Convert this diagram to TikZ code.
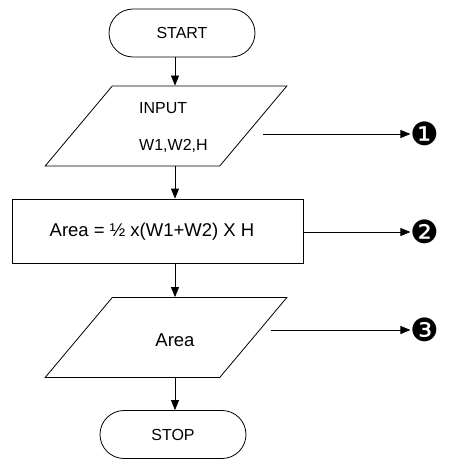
\documentclass[tikz,border=0pt]{standalone}
\usepackage{fontspec}
\setmainfont{Liberation Sans}
\newfontfamily\dingfont{DejaVu Sans}
\usetikzlibrary{shapes.geometric,arrows.meta}

\tikzset{
	terminal/.style = {draw, rounded corners=24pt, minimum width=146pt, minimum height=48pt, line width=0.8pt},
	io/.style = {draw, trapezium, trapezium left angle=58, trapezium right angle=122, trapezium stretches=true, minimum width=242pt, minimum height=80pt, line width=0.8pt},
	process/.style = {draw, rectangle, minimum width=291pt, minimum height=64pt, line width=0.8pt},
	txt/.style = {font=\fontsize{16}{19}\selectfont, inner sep=0pt},
	bigtxt/.style = {font=\fontsize{18.5}{22}\selectfont, inner sep=0pt},
	num/.style = {font=\dingfont\fontsize{32}{32}\selectfont, inner sep=0pt},
	arr/.style = {line width=0.8pt, -{Triangle[length=10pt,width=8pt]}}
}

\begin{document}
\begin{tikzpicture}[x=1pt,y=-1pt]
	\useasboundingbox (0,0) rectangle (455,466);
	
	% Flowchart boxes
	\node[terminal] (start) at (182,33) {};
	\node[io] (input) at (166,126) {};
	\node[process] (calc) at (157.5,231) {};
	\node[io] (output) at (166,337.5) {};
	\node[terminal] (stop) at (173,434.5) {};
	
	% Texts in the boxes
	\node[txt] (starttext) at (start) {START};
	\node[txt, align=left, anchor=west] (inputtext) at (139,128) {INPUT\\[18pt]W1,W2,H};
	\node[bigtxt] (calctext) at (152,232) {Area = ½ x(W1+W2) X H};
	\node[bigtxt] (outputtext) at (175,340) {Area};
	\node[txt] (stoptext) at (stop) {STOP};
	
	% Step numbers
	\node[num] (n1) at (425,134) {❶};
	\node[num] (n2) at (425,232) {❷};
	\node[num] (n3) at (425,330) {❸};
	
	% Main flow down the spine
	\coordinate (spine) at (175,0);
	\draw[arr] (start.south -| spine) -- (input.north -| spine);
	\draw[arr] (input.south -| spine) -- (calc.north -| spine);
	\draw[arr] (calc.south -| spine) -- (output.north -| spine);
	\draw[arr] (output.south -| spine) -- (stop.north -| spine);
	
	% Arrows to the step numbers
	\coordinate (a1) at (263,134);
	\coordinate (a3) at (271,330);
	\draw[arr] (a1) -- (n1.west);
	\draw[arr] (calc.east |- n2) -- (n2.west);
	\draw[arr] (a3) -- (n3.west);
\end{tikzpicture}
\end{document}
